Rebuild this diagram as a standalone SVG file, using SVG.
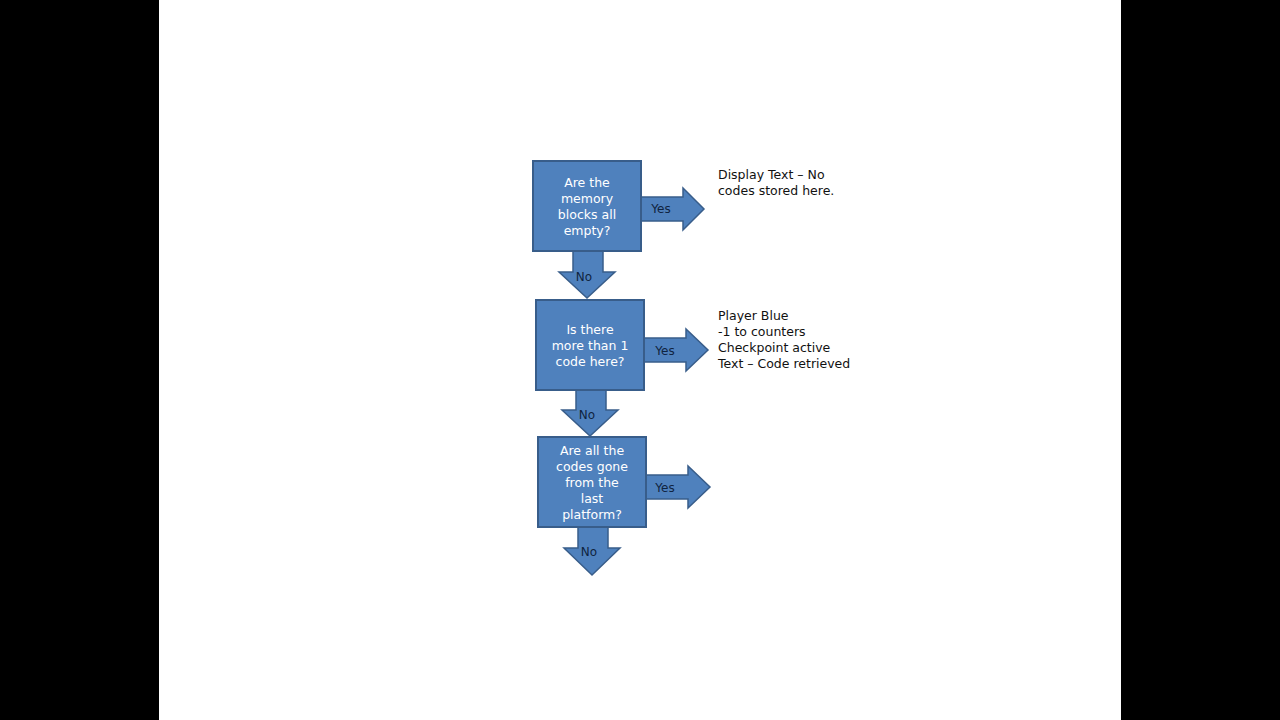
<svg xmlns="http://www.w3.org/2000/svg" width="1280" height="720" viewBox="0 0 1280 720">
<style>
.b{fill:#4f81bd;stroke:#385d8a;stroke-width:2}
.a{fill:#4f81bd;stroke:#385d8a;stroke-width:1.5}
.w{fill:#fff;font-family:"DejaVu Sans",sans-serif;font-size:12.5px;text-anchor:middle}
.l{fill:#0f2440;font-family:"DejaVu Sans",sans-serif;font-size:12px;text-anchor:middle}
.t{fill:#111;font-family:"DejaVu Sans",sans-serif;font-size:12.5px}
</style>
<rect width="1280" height="720" fill="#000"/>
<rect x="159" y="0" width="962" height="720" fill="#fff"/>
<g id="connectors">
<path class="a" d="M641,197H683V188L704,209L683,230V221H641Z"/>
<path class="a" d="M573,251H603V272H615L587,298L559,272H573Z"/>
<path class="a" d="M644,338H686V329L708,350L686,371V362H644Z"/>
<path class="a" d="M576,390H606V410H618L590,436L562,410H576Z"/>
<path class="a" d="M646,475H688V466L710,487L688,508V499H646Z"/>
<path class="a" d="M578,527H608V548H620L592,575L564,548H578Z"/>
<text class="l" x="661" y="213">Yes</text>
<text class="l" x="584" y="281">No</text>
<text class="l" x="665" y="355">Yes</text>
<text class="l" x="587" y="419">No</text>
<text class="l" x="665" y="492">Yes</text>
<text class="l" x="589" y="556">No</text>
</g>
<g id="n1"><rect class="b" x="533" y="161" width="108" height="90"/>
<text class="w" x="587" y="187">Are the</text><text class="w" x="587" y="203">memory</text><text class="w" x="587" y="219">blocks all</text><text class="w" x="587" y="235">empty?</text></g>
<g id="n2"><rect class="b" x="536" y="300" width="108" height="90"/>
<text class="w" x="590" y="334">Is there</text><text class="w" x="590" y="350">more than 1</text><text class="w" x="590" y="366">code here?</text></g>
<g id="n3"><rect class="b" x="538" y="437" width="108" height="90"/>
<text class="w" x="592" y="455">Are all the</text><text class="w" x="592" y="471">codes gone</text><text class="w" x="592" y="487">from the</text><text class="w" x="592" y="503">last</text><text class="w" x="592" y="519">platform?</text></g>
<g id="r1"><text class="t" x="718" y="179">Display Text – No</text><text class="t" x="718" y="195">codes stored here.</text></g>
<g id="r2"><text class="t" x="718" y="320">Player Blue</text><text class="t" x="718" y="336">-1 to counters</text><text class="t" x="718" y="352">Checkpoint active</text><text class="t" x="718" y="368">Text – Code retrieved</text></g>
</svg>
